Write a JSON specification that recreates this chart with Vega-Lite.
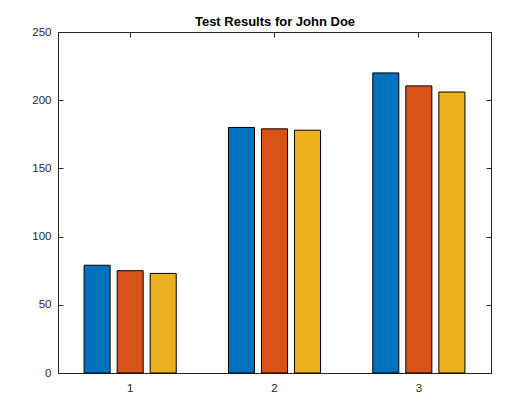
{
  "$schema": "https://vega.github.io/schema/vega-lite/v6.json",
  "autosize": {"type": "none"},
  "padding": {"left": 58, "top": 32, "right": 28, "bottom": 37},
  "width": 433,
  "height": 341,
  "background": "white",
  "config": {
    "view": {"stroke": "#262626", "strokeWidth": 1},
    "font": "Liberation Sans",
    "axis": {
      "domainColor": "#262626",
      "tickColor": "#262626",
      "labelColor": "#262626",
      "labelFont": "Liberation Sans",
      "labelFontSize": 11.5,
      "grid": false,
      "tickSize": -5,
      "domainWidth": 1,
      "tickWidth": 1
    }
  },
  "data": {
    "values": [
      {"group": "1", "series": "A", "score": 79},
      {"group": "1", "series": "B", "score": 75},
      {"group": "1", "series": "C", "score": 73},
      {"group": "2", "series": "A", "score": 180},
      {"group": "2", "series": "B", "score": 179},
      {"group": "2", "series": "C", "score": 178},
      {"group": "3", "series": "A", "score": 220},
      {"group": "3", "series": "B", "score": 210.5},
      {"group": "3", "series": "C", "score": 206}
    ]
  },
  "layer": [
    {
      "mark": {"type": "bar", "stroke": "#000000", "strokeWidth": 1},
      "encoding": {
        "x": {
          "field": "group",
          "type": "nominal",
          "title": null,
          "scale": {"paddingInner": 0, "paddingOuter": 0},
          "axis": {"orient": "bottom", "labelAngle": 0, "labelPadding": 14}
        },
        "y": {
          "field": "score",
          "type": "quantitative",
          "title": null,
          "scale": {"domain": [0, 250], "nice": false, "zero": true},
          "axis": {"orient": "left", "values": [0, 50, 100, 150, 200, 250], "labelPadding": 12}
        },
        "xOffset": {
          "field": "series",
          "type": "nominal",
          "scale": {"paddingInner": 0.212, "paddingOuter": 0.79}
        },
        "color": {
          "field": "series",
          "type": "nominal",
          "legend": null,
          "scale": {"domain": ["A", "B", "C"], "range": ["#0072BD", "#D95319", "#EDB120"]}
        }
      }
    },
    {
      "mark": {"type": "bar", "opacity": 0},
      "encoding": {
        "x": {
          "field": "group",
          "type": "nominal",
          "title": "Test Results for John Doe",
          "axis": {
            "orient": "top",
            "labels": false,
            "titleFont": "Liberation Sans",
            "titleFontSize": 13,
            "titleFontWeight": "bold",
            "titleColor": "#000000",
            "titlePadding": 3
          }
        },
        "y": {
          "field": "score",
          "type": "quantitative",
          "title": null,
          "axis": {"orient": "right", "labels": false, "values": [0, 50, 100, 150, 200, 250]}
        }
      }
    }
  ],
  "resolve": {"axis": {"x": "independent", "y": "independent"}}
}
